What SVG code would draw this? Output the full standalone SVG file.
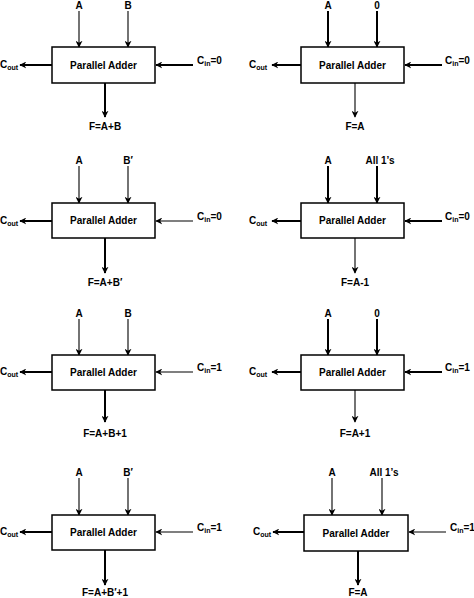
<svg xmlns="http://www.w3.org/2000/svg" width="474" height="598" viewBox="0 0 474 598">
<defs>
<style>
text{font-family:"Liberation Sans",Arial,sans-serif;font-weight:bold;font-size:10px;fill:#000}
.box{fill:#fff;stroke:#000;stroke-width:1.5}
.thin{stroke:#000;stroke-width:1.1;fill:none;marker-end:url(#ah)}
.thick{stroke:#000;stroke-width:2;fill:none;marker-end:url(#ah)}
.sub{font-size:7px}
.mid{text-anchor:middle}
</style>
<marker id="ah" viewBox="0 0 10 10" refX="9" refY="5" markerWidth="7" markerHeight="7" markerUnits="userSpaceOnUse" orient="auto">
<path d="M0,0 L10,5 L0,10 L3,5 Z" fill="#000"/>
</marker>
</defs>
<rect width="474" height="598" fill="#fff"/>

<g id="connectors">
<!-- Panel 1 -->
<line class="thin" x1="79" y1="11" x2="79" y2="47"/>
<line class="thin" x1="128" y1="11" x2="128" y2="47"/>
<line class="thick" x1="52" y1="65" x2="20" y2="65"/>
<line class="thick" x1="193" y1="65" x2="156" y2="65"/>
<line class="thick" x1="105" y1="83" x2="105" y2="117"/>
<!-- Panel 2 -->
<line class="thick" x1="328" y1="11" x2="328" y2="47"/>
<line class="thick" x1="377" y1="11" x2="377" y2="47"/>
<line class="thick" x1="301" y1="65" x2="272" y2="65"/>
<line class="thick" x1="442" y1="65" x2="405" y2="65"/>
<line class="thin" x1="355" y1="83" x2="355" y2="117"/>
<!-- Panel 3 -->
<line class="thin" x1="79" y1="166" x2="79" y2="203"/>
<line class="thin" x1="128" y1="166" x2="128" y2="203"/>
<line class="thick" x1="52" y1="221" x2="20" y2="221"/>
<line class="thin" x1="193" y1="221" x2="156" y2="221"/>
<line class="thick" x1="105" y1="238" x2="105" y2="273"/>
<!-- Panel 4 -->
<line class="thick" x1="328" y1="166" x2="328" y2="203"/>
<line class="thick" x1="377" y1="166" x2="377" y2="203"/>
<line class="thick" x1="301" y1="221" x2="272" y2="221"/>
<line class="thick" x1="442" y1="221" x2="405" y2="221"/>
<line class="thin" x1="355" y1="238" x2="355" y2="273"/>
<!-- Panel 5 -->
<line class="thin" x1="79" y1="319" x2="79" y2="355"/>
<line class="thin" x1="128" y1="319" x2="128" y2="355"/>
<line class="thick" x1="52" y1="372" x2="20" y2="372"/>
<line class="thin" x1="193" y1="372" x2="156" y2="372"/>
<line class="thick" x1="105" y1="390" x2="105" y2="422"/>
<!-- Panel 6 -->
<line class="thick" x1="328" y1="319" x2="328" y2="355"/>
<line class="thick" x1="377" y1="319" x2="377" y2="355"/>
<line class="thick" x1="301" y1="372" x2="272" y2="372"/>
<line class="thick" x1="442" y1="372" x2="405" y2="372"/>
<line class="thin" x1="355" y1="390" x2="355" y2="422"/>
<!-- Panel 7 -->
<line class="thin" x1="79" y1="478" x2="79" y2="515"/>
<line class="thin" x1="128" y1="478" x2="128" y2="515"/>
<line class="thick" x1="52" y1="532" x2="20" y2="532"/>
<line class="thin" x1="193" y1="532" x2="156" y2="532"/>
<line class="thick" x1="105" y1="550" x2="105" y2="585"/>
<!-- Panel 8 -->
<line class="thin" x1="332" y1="478" x2="332" y2="515"/>
<line class="thin" x1="382" y1="478" x2="382" y2="515"/>
<line class="thick" x1="304" y1="532" x2="273" y2="532"/>
<line class="thin" x1="446" y1="532" x2="409" y2="532"/>
<line class="thick" x1="358" y1="551" x2="358" y2="585"/>
</g>

<g id="adder1">
<rect class="box" x="52" y="47" width="103" height="36"/>
<text class="mid" x="103.5" y="69">Parallel Adder</text>
<text class="mid" x="79" y="9">A</text>
<text class="mid" x="128" y="9">B</text>
<text x="0" y="68">C<tspan class="sub" dy="2">out</tspan></text>
<text x="197" y="64">C<tspan class="sub" dy="2">in</tspan><tspan dy="-2">=0</tspan></text>
<text class="mid" x="105" y="130">F=A+B</text>
</g>

<g id="adder2">
<rect class="box" x="301" y="47" width="103" height="36"/>
<text class="mid" x="352.5" y="69">Parallel Adder</text>
<text class="mid" x="328" y="9">A</text>
<text class="mid" x="377" y="9">0</text>
<text x="249" y="68">C<tspan class="sub" dy="2">out</tspan></text>
<text x="445" y="64">C<tspan class="sub" dy="2">in</tspan><tspan dy="-2">=0</tspan></text>
<text class="mid" x="355" y="130">F=A</text>
</g>

<g id="adder3">
<rect class="box" x="52" y="203" width="103" height="35"/>
<text class="mid" x="103.5" y="224">Parallel Adder</text>
<text class="mid" x="79" y="164">A</text>
<text class="mid" x="128" y="164">B′</text>
<text x="0" y="224">C<tspan class="sub" dy="2">out</tspan></text>
<text x="197" y="220">C<tspan class="sub" dy="2">in</tspan><tspan dy="-2">=0</tspan></text>
<text class="mid" x="105" y="286">F=A+B′</text>
</g>

<g id="adder4">
<rect class="box" x="301" y="203" width="103" height="35"/>
<text class="mid" x="352.5" y="224">Parallel Adder</text>
<text class="mid" x="328" y="164">A</text>
<text class="mid" x="380" y="164">All 1’s</text>
<text x="249" y="224">C<tspan class="sub" dy="2">out</tspan></text>
<text x="445" y="220">C<tspan class="sub" dy="2">in</tspan><tspan dy="-2">=0</tspan></text>
<text class="mid" x="355" y="286">F=A-1</text>
</g>

<g id="adder5">
<rect class="box" x="52" y="355" width="103" height="35"/>
<text class="mid" x="103.5" y="376">Parallel Adder</text>
<text class="mid" x="79" y="317">A</text>
<text class="mid" x="128" y="317">B</text>
<text x="0" y="375">C<tspan class="sub" dy="2">out</tspan></text>
<text x="197" y="371">C<tspan class="sub" dy="2">in</tspan><tspan dy="-2">=1</tspan></text>
<text class="mid" x="105" y="437">F=A+B+1</text>
</g>

<g id="adder6">
<rect class="box" x="301" y="355" width="103" height="35"/>
<text class="mid" x="352.5" y="376">Parallel Adder</text>
<text class="mid" x="328" y="317">A</text>
<text class="mid" x="377" y="317">0</text>
<text x="249" y="375">C<tspan class="sub" dy="2">out</tspan></text>
<text x="445" y="371">C<tspan class="sub" dy="2">in</tspan><tspan dy="-2">=1</tspan></text>
<text class="mid" x="355" y="437">F=A+1</text>
</g>

<g id="adder7">
<rect class="box" x="52" y="515" width="103" height="35"/>
<text class="mid" x="103.5" y="536">Parallel Adder</text>
<text class="mid" x="79" y="476">A</text>
<text class="mid" x="128" y="476">B′</text>
<text x="0" y="535">C<tspan class="sub" dy="2">out</tspan></text>
<text x="197" y="531">C<tspan class="sub" dy="2">in</tspan><tspan dy="-2">=1</tspan></text>
<text class="mid" x="105" y="596">F=A+B′+1</text>
</g>

<g id="adder8">
<rect class="box" x="304" y="515" width="104" height="36"/>
<text class="mid" x="356" y="537">Parallel Adder</text>
<text class="mid" x="332" y="476">A</text>
<text class="mid" x="384" y="476">All 1’s</text>
<text x="253" y="535">C<tspan class="sub" dy="2">out</tspan></text>
<text x="450" y="531">C<tspan class="sub" dy="2">in</tspan><tspan dy="-2">=1</tspan></text>
<text class="mid" x="358" y="596">F=A</text>
</g>
</svg>
